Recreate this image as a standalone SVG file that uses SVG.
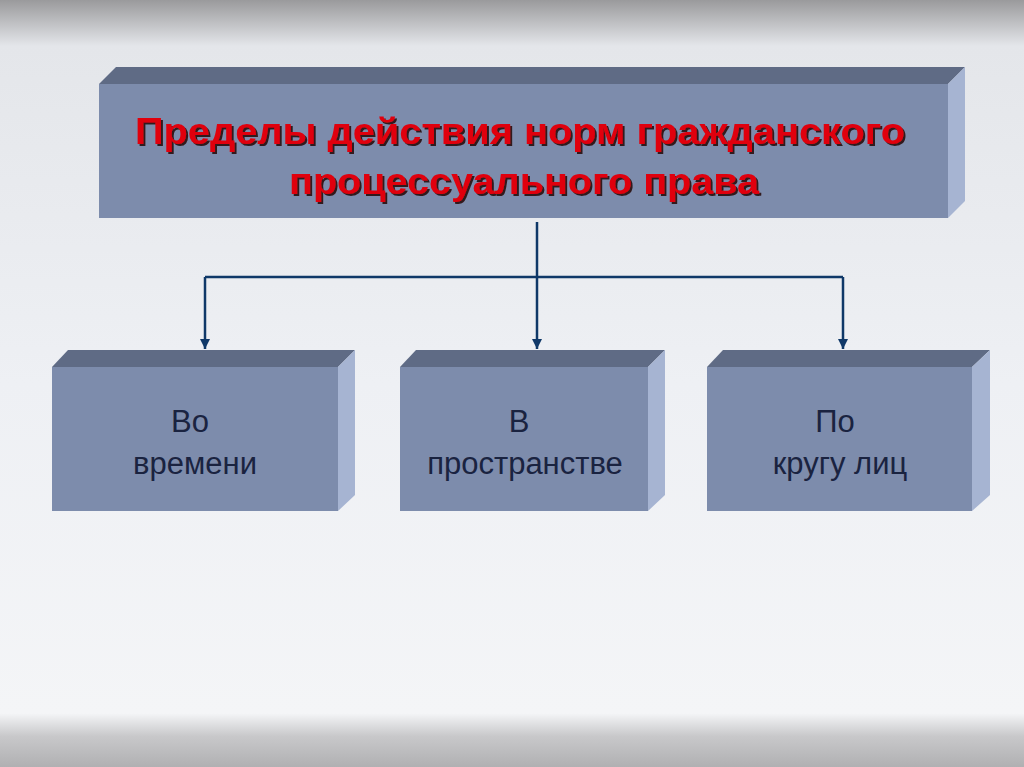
<svg xmlns="http://www.w3.org/2000/svg" width="1024" height="767" viewBox="0 0 1024 767">
<defs>
<linearGradient id="bg" x1="0" y1="0" x2="0" y2="1">
<stop offset="0" stop-color="#9a9a9c"/><stop offset="0.06" stop-color="#e4e6ea"/><stop offset="0.5" stop-color="#eef0f4"/><stop offset="0.93" stop-color="#f4f5f7"/><stop offset="0.96" stop-color="#c8c8ca"/><stop offset="1" stop-color="#b0b0b2"/>
</linearGradient>
<marker id="ar" viewBox="0 0 10 10" refX="10" refY="5" markerWidth="10" markerHeight="10" markerUnits="userSpaceOnUse" orient="auto"><path d="M0,0L10,5L0,10z" fill="#0f3868"/></marker>
<filter id="sh"><feDropShadow dx="2" dy="2" stdDeviation="0.5" flood-color="#2a1010" flood-opacity="0.9"/></filter>
</defs>
<style>
.front{fill:#7d8cac}.top{fill:#5f6b85}.side{fill:#a6b4d2}
.t{font-family:"Liberation Sans",Arial,sans-serif;font-size:31px;fill:#1a2340;text-anchor:middle}
.h{font-family:"Liberation Sans",Arial,sans-serif;font-size:37px;font-weight:bold;fill:#e00010;text-anchor:middle}
.c{stroke:#0f3868;stroke-width:2.5;fill:none}
</style>
<rect width="1024" height="767" fill="url(#bg)"/>
<g id="title">
<polygon class="top" points="99,84 116,67 965,67 948,84"/>
<polygon class="side" points="948,84 965,67 965,201 948,218"/>
<rect class="front" x="99" y="84" width="849" height="134"/>
<text class="h" x="520" y="144" textLength="770" lengthAdjust="spacingAndGlyphs" filter="url(#sh)">Пределы действия норм гражданского</text>
<text class="h" x="524" y="194" textLength="470" lengthAdjust="spacingAndGlyphs" filter="url(#sh)">процессуального права</text>
</g>
<g id="connectors">
<path class="c" d="M537,222V349" marker-end="url(#ar)"/>
<path class="c" d="M205,277H843"/>
<path class="c" d="M205,277V349" marker-end="url(#ar)"/>
<path class="c" d="M843,277V349" marker-end="url(#ar)"/>
</g>
<g id="time">
<polygon class="top" points="52,367 68,350 355,350 338,367"/>
<polygon class="side" points="338,367 355,350 355,495 338,511"/>
<rect class="front" x="52" y="367" width="286" height="144"/>
<text class="t" x="190" y="432">Во</text><text class="t" x="195" y="474">времени</text>
</g>
<g id="space">
<polygon class="top" points="400,367 416,350 665,350 648,367"/>
<polygon class="side" points="648,367 665,350 665,495 648,511"/>
<rect class="front" x="400" y="367" width="248" height="144"/>
<text class="t" x="519" y="432">В</text><text class="t" x="525" y="474">пространстве</text>
</g>
<g id="persons">
<polygon class="top" points="707,367 723,350 990,350 972,367"/>
<polygon class="side" points="972,367 990,350 990,495 972,511"/>
<rect class="front" x="707" y="367" width="265" height="144"/>
<text class="t" x="835" y="432">По</text><text class="t" x="840" y="474">кругу лиц</text>
</g>
</svg>
